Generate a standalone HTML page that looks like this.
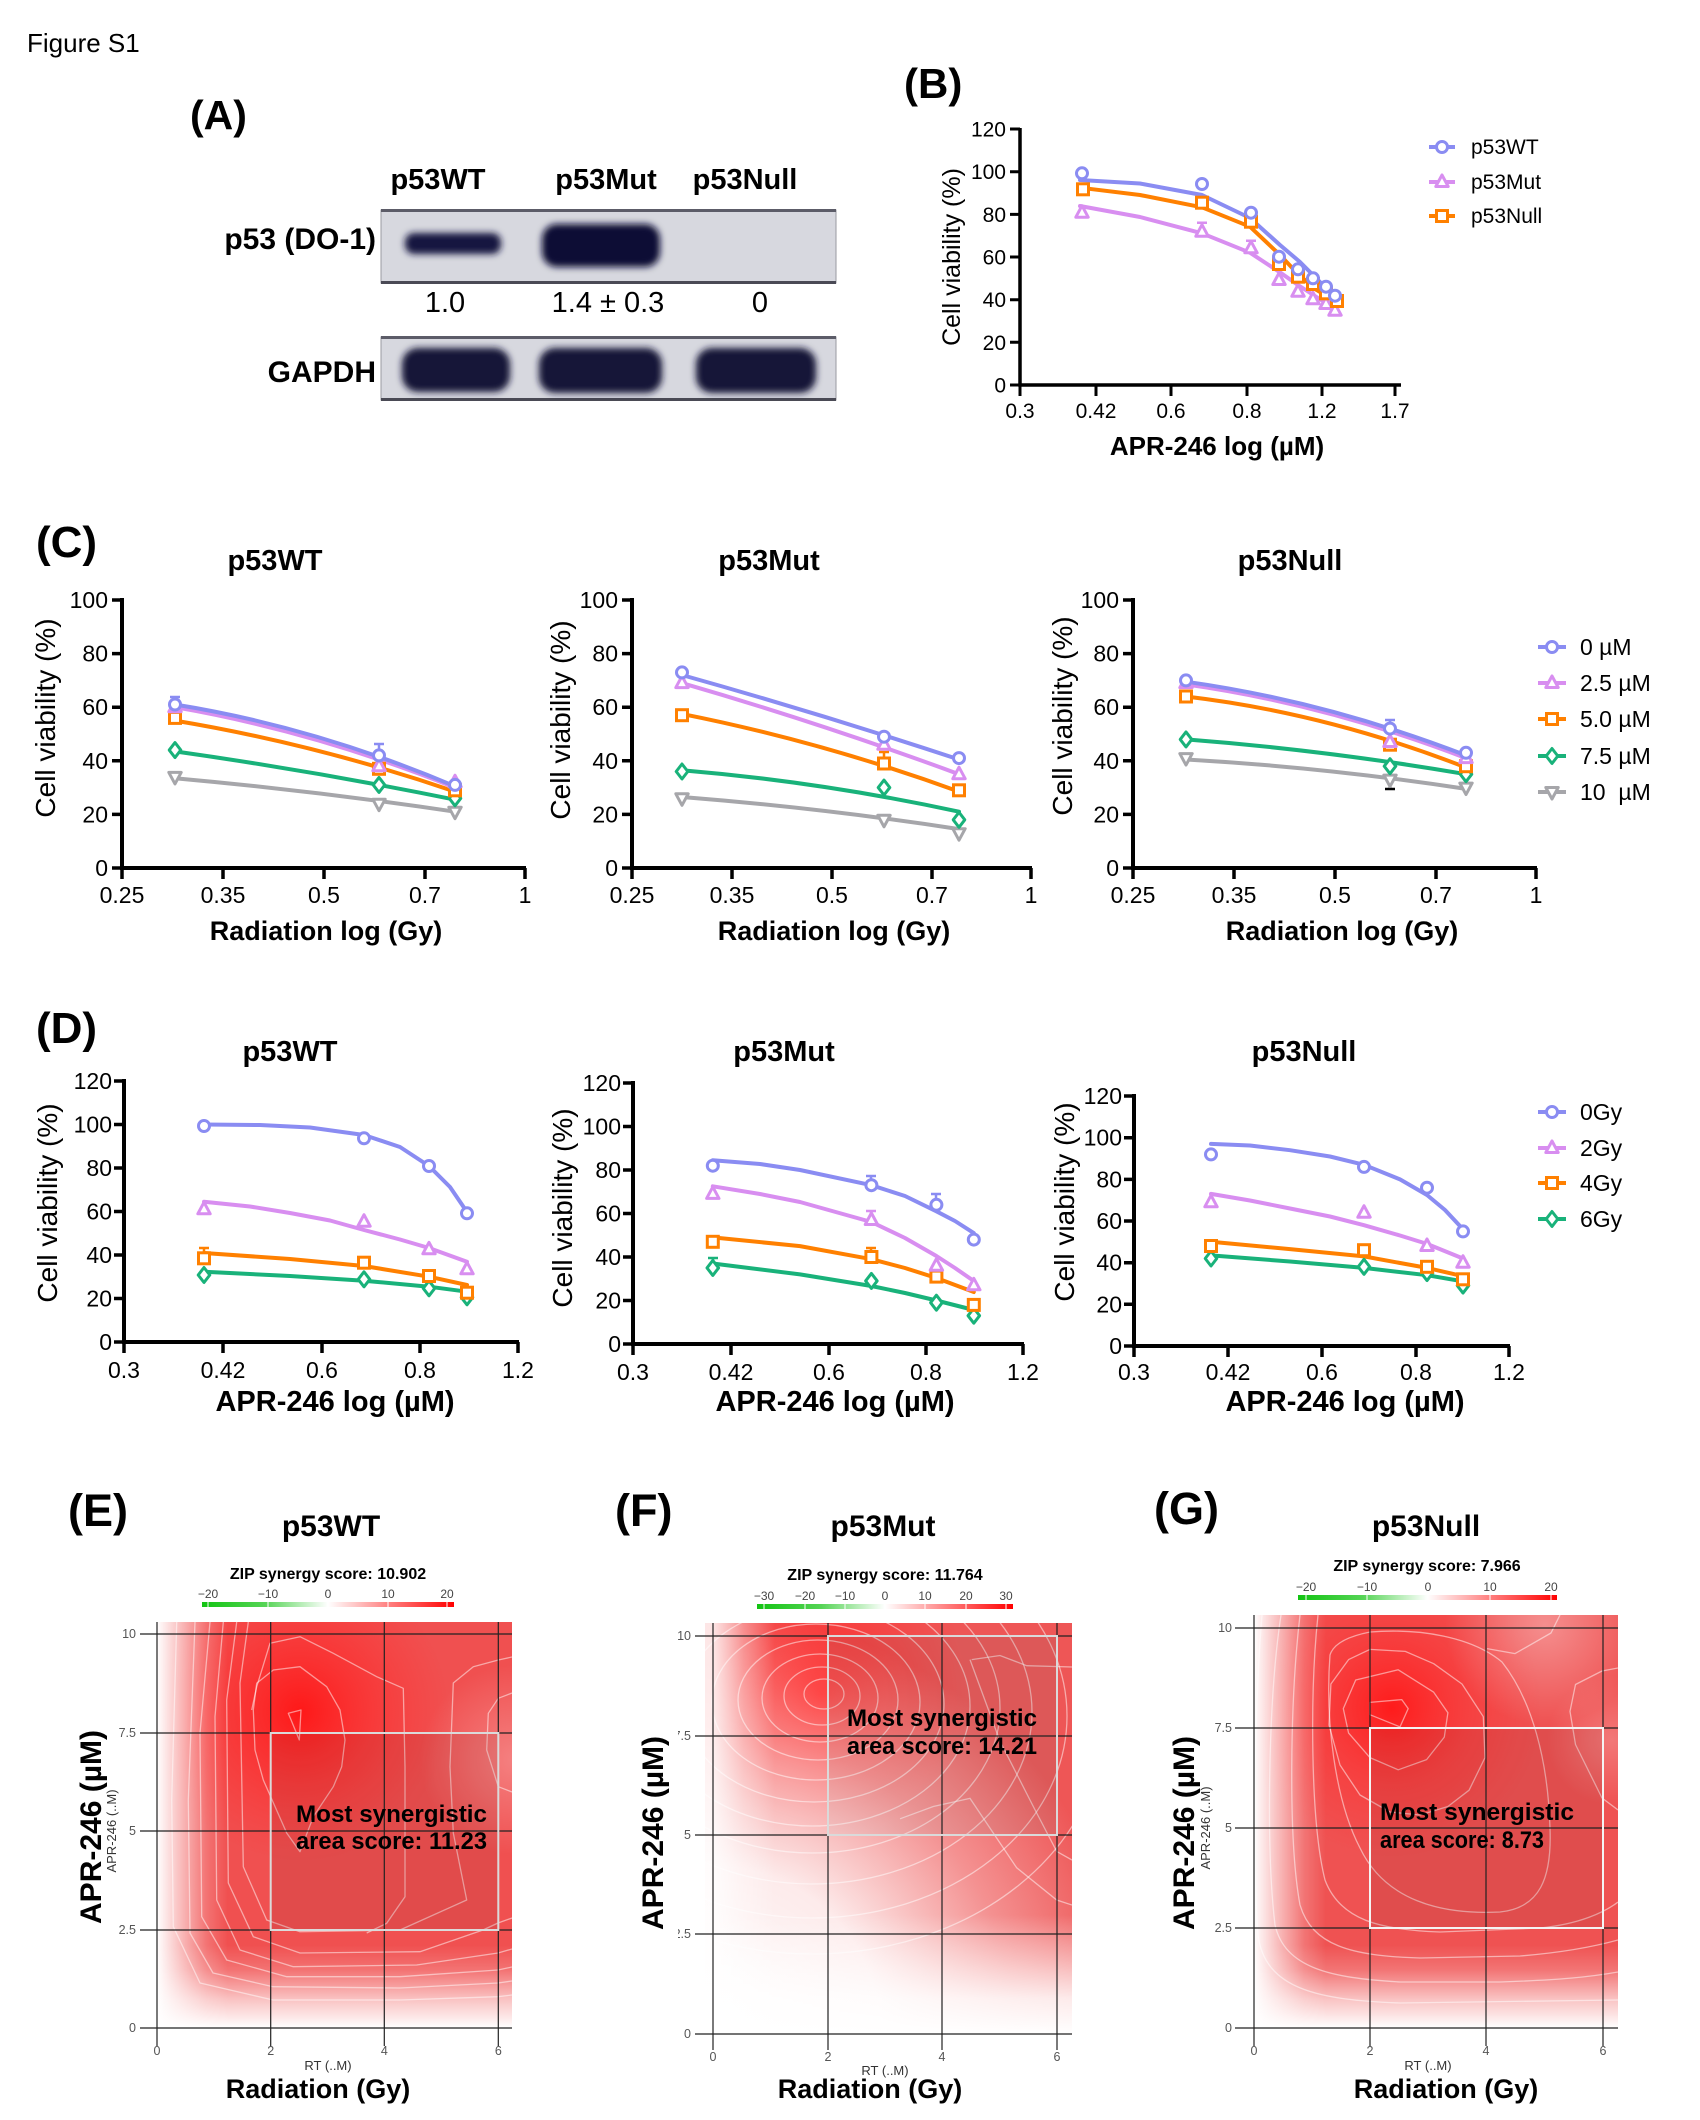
<!DOCTYPE html>
<html><head><meta charset="utf-8"><title>Figure S1</title>
<style>html,body{margin:0;padding:0;background:#fff;}svg{display:block;}</style>
</head><body>
<svg xmlns="http://www.w3.org/2000/svg" width="1700" height="2120" viewBox="0 0 1700 2120" font-family="'Liberation Sans', Arial, sans-serif">
<defs>
<g id="mc"><circle r="5.5" fill="#fff" stroke="#8a8cf2" stroke-width="3"/></g>
<g id="mt"><path d="M0,-7L6.2,4.5L-6.2,4.5Z" fill="#fff" stroke="#d88ef0" stroke-width="3" stroke-linejoin="round"/></g>
<g id="ms"><rect x="-5.5" y="-5.5" width="11" height="11" fill="#fff" stroke="#ff8000" stroke-width="3"/></g>
<g id="md"><path d="M0,-7.5L5.8,0L0,7.5L-5.8,0Z" fill="#fff" stroke="#19b27a" stroke-width="3" stroke-linejoin="round"/></g>
<g id="mv"><path d="M0,7L6.2,-4.5L-6.2,-4.5Z" fill="#fff" stroke="#a6a6aa" stroke-width="3" stroke-linejoin="round"/></g>
<filter id="bl" x="-30%" y="-60%" width="160%" height="220%"><feGaussianBlur stdDeviation="3.5"/></filter>

<linearGradient id="cb" x1="0" x2="1" y1="0" y2="0">
<stop offset="0" stop-color="#12c412"/><stop offset="0.25" stop-color="#55d455"/><stop offset="0.5" stop-color="#ffffff"/><stop offset="0.75" stop-color="#ff7b7b"/><stop offset="1" stop-color="#ff0000"/>
</linearGradient>

<!-- E -->
<clipPath id="cE"><rect x="150" y="1622" width="362" height="407"/></clipPath>
<radialGradient id="pkE" gradientUnits="userSpaceOnUse" cx="300" cy="1712" r="150"><stop offset="0" stop-color="#ff1515" stop-opacity="0.95"/><stop offset="0.5" stop-color="#ff2525" stop-opacity="0.5"/><stop offset="1" stop-color="#ff3030" stop-opacity="0"/></radialGradient>
<radialGradient id="rtE" gradientUnits="userSpaceOnUse" cx="515" cy="1760" r="95"><stop offset="0" stop-color="#fff" stop-opacity="0.28"/><stop offset="1" stop-color="#fff" stop-opacity="0"/></radialGradient>
<linearGradient id="lfE" gradientUnits="userSpaceOnUse" x1="157" y1="0" x2="228" y2="0"><stop offset="0" stop-color="#fff" stop-opacity="1"/><stop offset="0.35" stop-color="#fff" stop-opacity="0.6"/><stop offset="0.7" stop-color="#fff" stop-opacity="0.2"/><stop offset="1" stop-color="#fff" stop-opacity="0"/></linearGradient>
<linearGradient id="btE" gradientUnits="userSpaceOnUse" x1="0" y1="2028" x2="0" y2="1945"><stop offset="0" stop-color="#fff" stop-opacity="1"/><stop offset="0.35" stop-color="#fff" stop-opacity="0.65"/><stop offset="0.7" stop-color="#fff" stop-opacity="0.2"/><stop offset="1" stop-color="#fff" stop-opacity="0"/></linearGradient>

<!-- F -->
<clipPath id="cF"><rect x="705" y="1623" width="367" height="411"/></clipPath>
<radialGradient id="pkF" gradientUnits="userSpaceOnUse" cx="822" cy="1694" r="150"><stop offset="0" stop-color="#ff1818" stop-opacity="0.95"/><stop offset="0.5" stop-color="#ff2a2a" stop-opacity="0.45"/><stop offset="1" stop-color="#ff3030" stop-opacity="0"/></radialGradient>
<radialGradient id="wF" gradientUnits="userSpaceOnUse" cx="713" cy="2034" r="420"><stop offset="0" stop-color="#fff" stop-opacity="1"/><stop offset="0.4" stop-color="#fff" stop-opacity="0.88"/><stop offset="0.72" stop-color="#fff" stop-opacity="0.35"/><stop offset="1" stop-color="#fff" stop-opacity="0"/></radialGradient>
<linearGradient id="lfF" gradientUnits="userSpaceOnUse" x1="713" y1="0" x2="775" y2="0"><stop offset="0" stop-color="#fff" stop-opacity="0.85"/><stop offset="0.5" stop-color="#fff" stop-opacity="0.35"/><stop offset="1" stop-color="#fff" stop-opacity="0"/></linearGradient>
<linearGradient id="btF" gradientUnits="userSpaceOnUse" x1="0" y1="2034" x2="0" y2="1915"><stop offset="0" stop-color="#fff" stop-opacity="1"/><stop offset="0.3" stop-color="#fff" stop-opacity="0.85"/><stop offset="0.62" stop-color="#fff" stop-opacity="0.45"/><stop offset="1" stop-color="#fff" stop-opacity="0"/></linearGradient>

<!-- G -->
<clipPath id="cG"><rect x="1245" y="1615" width="373" height="413"/></clipPath>
<radialGradient id="pkG" gradientUnits="userSpaceOnUse" cx="1392" cy="1708" r="150"><stop offset="0" stop-color="#ff1818" stop-opacity="0.95"/><stop offset="0.5" stop-color="#ff2a2a" stop-opacity="0.45"/><stop offset="1" stop-color="#ff3030" stop-opacity="0"/></radialGradient>
<radialGradient id="rtG" gradientUnits="userSpaceOnUse" cx="1545" cy="1625" r="100"><stop offset="0" stop-color="#fff" stop-opacity="0.35"/><stop offset="1" stop-color="#fff" stop-opacity="0"/></radialGradient>
<radialGradient id="rt2G" gradientUnits="userSpaceOnUse" cx="1612" cy="1740" r="65"><stop offset="0" stop-color="#fff" stop-opacity="0.22"/><stop offset="1" stop-color="#fff" stop-opacity="0"/></radialGradient>
<linearGradient id="lfG" gradientUnits="userSpaceOnUse" x1="1254" y1="0" x2="1326" y2="0"><stop offset="0" stop-color="#fff" stop-opacity="1"/><stop offset="0.35" stop-color="#fff" stop-opacity="0.6"/><stop offset="0.7" stop-color="#fff" stop-opacity="0.2"/><stop offset="1" stop-color="#fff" stop-opacity="0"/></linearGradient>
<linearGradient id="btG" gradientUnits="userSpaceOnUse" x1="0" y1="2028" x2="0" y2="1945"><stop offset="0" stop-color="#fff" stop-opacity="1"/><stop offset="0.35" stop-color="#fff" stop-opacity="0.65"/><stop offset="0.7" stop-color="#fff" stop-opacity="0.2"/><stop offset="1" stop-color="#fff" stop-opacity="0"/></linearGradient>
</defs>

<rect width="1700" height="2120" fill="#fff"/>

<!-- ================= PANEL A ================= -->
<text x="27" y="52" font-size="26">Figure S1</text>
<text x="190" y="129" font-size="41" font-weight="bold">(A)</text>
<g font-size="29" font-weight="bold" text-anchor="middle">
<text x="438" y="189">p53WT</text>
<text x="606" y="189">p53Mut</text>
<text x="745" y="189">p53Null</text>
</g>
<!-- blot 1 -->
<rect x="381" y="210" width="455" height="73" fill="#d7d8df" stroke="#9a9aa2" stroke-width="1"/>
<rect x="381" y="209" width="455" height="3" fill="#5c5c68"/>
<rect x="381" y="281" width="455" height="3" fill="#4a4a55"/>
<rect x="405" y="233" width="96" height="21" rx="9" fill="#141440" filter="url(#bl)"/>
<rect x="542" y="224" width="118" height="43" rx="15" fill="#101035" filter="url(#bl)"/>
<text x="376" y="249" font-size="30" font-weight="bold" text-anchor="end">p53 (DO-1)</text>
<g font-size="29" text-anchor="middle">
<text x="445" y="312">1.0</text>
<text x="608" y="312">1.4 ± 0.3</text>
<text x="760" y="312">0</text>
</g>
<!-- blot 2 -->
<rect x="381" y="337" width="455" height="63" fill="#d7d8df" stroke="#9a9aa2" stroke-width="1"/>
<rect x="381" y="336" width="455" height="3" fill="#5c5c68"/>
<rect x="381" y="398" width="455" height="3" fill="#4a4a55"/>
<rect x="402" y="348" width="108" height="44" rx="16" fill="#121238" filter="url(#bl)"/>
<rect x="539" y="348" width="123" height="45" rx="16" fill="#121238" filter="url(#bl)"/>
<rect x="696" y="348" width="120" height="45" rx="16" fill="#121238" filter="url(#bl)"/>
<text x="376" y="382" font-size="30" font-weight="bold" text-anchor="end">GAPDH</text>

<!-- ================= PANEL B ================= -->
<text x="904" y="98" font-size="42" font-weight="bold">(B)</text>
<g stroke="#000" fill="none">
<path d="M1020,128V385H1401" stroke-width="3.5"/>
<path d="M1010,385H1020M1010,342.3H1020M1010,299.7H1020M1010,257H1020M1010,214.4H1020M1010,171.7H1020M1010,129H1020M1020,385V396M1096,385V396M1171,385V396M1247,385V396M1322,385V396M1395,385V396" stroke-width="3"/>
</g>
<g font-size="21" text-anchor="end">
<text x="1006" y="392.5">0</text><text x="1006" y="349.8">20</text><text x="1006" y="307.2">40</text><text x="1006" y="264.5">60</text><text x="1006" y="221.9">80</text><text x="1006" y="179.2">100</text><text x="1006" y="136.5">120</text>
</g>
<g font-size="21" text-anchor="middle">
<text x="1020" y="418">0.3</text><text x="1096" y="418">0.42</text><text x="1171" y="418">0.6</text><text x="1247" y="418">0.8</text><text x="1322" y="418">1.2</text><text x="1395" y="418">1.7</text>
</g>
<text transform="translate(960,257) rotate(-90)" font-size="25" text-anchor="middle">Cell viability (%)</text>
<text x="1217" y="455" font-size="26" font-weight="bold" text-anchor="middle">APR-246 log (µM)</text>
<g fill="none" stroke-width="4" stroke-linejoin="round" stroke-linecap="round">
<polyline stroke="#d88ef0" points="1080,206 1140,217 1202,233.3 1250,252.7 1279,271.7 1298,285 1318,298 1336,309"/>
<polyline stroke="#ff8000" points="1080,187.7 1140,195 1202,207.3 1250,226.7 1280,255 1298,274 1315,289 1337,302"/>
<polyline stroke="#8a8cf2" points="1080,180 1140,183.5 1202,195 1250,218 1280,245 1300,262 1315,277 1330,292 1338,300"/>
</g>
<g stroke="#d88ef0" stroke-width="2.5" fill="none"><path d="M1202,222.7V232M1197,222.7H1207M1251,240.7V250M1246,240.7H1256"/></g>
<use href="#mt" x="1082" y="212.7"/><use href="#mt" x="1202" y="231.7"/><use href="#mt" x="1251" y="248.3"/><use href="#mt" x="1279" y="280"/><use href="#mt" x="1298" y="291.7"/><use href="#mt" x="1313" y="299.3"/><use href="#mt" x="1326" y="304"/><use href="#mt" x="1335" y="310.7"/>
<use href="#ms" x="1083" y="189.3"/><use href="#ms" x="1202" y="202.7"/><use href="#ms" x="1251" y="221.7"/><use href="#ms" x="1279" y="264"/><use href="#ms" x="1298" y="276.7"/><use href="#ms" x="1313" y="284"/><use href="#ms" x="1326" y="293.3"/><use href="#ms" x="1337" y="301"/>
<use href="#mc" x="1082" y="173.3"/><use href="#mc" x="1202" y="184"/><use href="#mc" x="1251" y="212.7"/><use href="#mc" x="1279" y="256.7"/><use href="#mc" x="1298" y="269.3"/><use href="#mc" x="1313" y="278.3"/><use href="#mc" x="1326" y="286.7"/><use href="#mc" x="1335" y="295.7"/>
<!-- legend B -->
<g stroke-width="4"><path d="M1429,147H1455" stroke="#8a8cf2"/><path d="M1429,182H1455" stroke="#d88ef0"/><path d="M1429,216H1455" stroke="#ff8000"/></g>
<use href="#mc" x="1442" y="147"/><use href="#mt" x="1442" y="182"/><use href="#ms" x="1442" y="216"/>
<g font-size="21"><text x="1471" y="154">p53WT</text><text x="1471" y="189">p53Mut</text><text x="1471" y="223">p53Null</text></g>

<!-- ================= PANEL C ================= -->
<text x="36" y="557" font-size="44" font-weight="bold">(C)</text>
<g font-size="29" font-weight="bold" text-anchor="middle">
<text x="275" y="570">p53WT</text><text x="769" y="570">p53Mut</text><text x="1290" y="570">p53Null</text>
</g>
<g stroke="#000" fill="none">
<path d="M122,598V868H526M632,598V868H1032M1133,598V868H1537" stroke-width="4"/>
<path d="M112,868H122M112,814.4H122M112,760.8H122M112,707.2H122M112,653.6H122M112,600H122M122,868V879M223,868V879M324,868V879M425,868V879M525,868V879" stroke-width="3.5"/>
<path d="M622,868H632M622,814.4H632M622,760.8H632M622,707.2H632M622,653.6H632M622,600H632M632,868V879M732,868V879M832,868V879M932,868V879M1031,868V879" stroke-width="3.5"/>
<path d="M1123,868H1133M1123,814.4H1133M1123,760.8H1133M1123,707.2H1133M1123,653.6H1133M1123,600H1133M1133,868V879M1234,868V879M1335,868V879M1436,868V879M1536,868V879" stroke-width="3.5"/>
</g>
<g font-size="23" text-anchor="end">
<text x="108" y="876">0</text><text x="108" y="822.4">20</text><text x="108" y="768.8">40</text><text x="108" y="715.2">60</text><text x="108" y="661.6">80</text><text x="108" y="608">100</text>
<text x="618" y="876">0</text><text x="618" y="822.4">20</text><text x="618" y="768.8">40</text><text x="618" y="715.2">60</text><text x="618" y="661.6">80</text><text x="618" y="608">100</text>
<text x="1119" y="876">0</text><text x="1119" y="822.4">20</text><text x="1119" y="768.8">40</text><text x="1119" y="715.2">60</text><text x="1119" y="661.6">80</text><text x="1119" y="608">100</text>
</g>
<g font-size="23" text-anchor="middle">
<text x="122" y="903">0.25</text><text x="223" y="903">0.35</text><text x="324" y="903">0.5</text><text x="425" y="903">0.7</text><text x="525" y="903">1</text>
<text x="632" y="903">0.25</text><text x="732" y="903">0.35</text><text x="832" y="903">0.5</text><text x="932" y="903">0.7</text><text x="1031" y="903">1</text>
<text x="1133" y="903">0.25</text><text x="1234" y="903">0.35</text><text x="1335" y="903">0.5</text><text x="1436" y="903">0.7</text><text x="1536" y="903">1</text>
</g>
<g font-size="28" text-anchor="middle">
<text transform="translate(55,718) rotate(-90)">Cell viability (%)</text>
<text transform="translate(570,720) rotate(-90)">Cell viability (%)</text>
<text transform="translate(1072,716) rotate(-90)">Cell viability (%)</text>
</g>
<g font-size="27" font-weight="bold" text-anchor="middle">
<text x="326" y="940">Radiation log (Gy)</text><text x="834" y="940">Radiation log (Gy)</text><text x="1342" y="940">Radiation log (Gy)</text>
</g>
<g fill="none" stroke-width="4" stroke-linecap="round">
<path stroke="#a6a6aa" d="M175,778.2Q315,790.9 455,811.7"/>
<path stroke="#19b27a" d="M175,751.4Q315,771.2 455,799.7"/>
<path stroke="#ff8000" d="M175,720.6Q315,743.9 455,791.6"/>
<path stroke="#d88ef0" d="M175,707.2Q315,731.5 455,787.6"/>
<path stroke="#8a8cf2" d="M175,704.5Q315,727 455,786.3"/>
<path stroke="#a6a6aa" d="M682,797Q822,808.1 959,829.1"/>
<path stroke="#19b27a" d="M682,770.2Q822,782 959,811.7"/>
<path stroke="#ff8000" d="M682,713.9Q822,741.8 959,791.6"/>
<path stroke="#d88ef0" d="M682,683.1Q822,723.6 959,774.2"/>
<path stroke="#8a8cf2" d="M682,675Q822,714.3 959,759.5"/>
<path stroke="#a6a6aa" d="M1186,759.5Q1326,767.4 1466,788.9"/>
<path stroke="#19b27a" d="M1186,739.4Q1326,750.2 1466,774.2"/>
<path stroke="#ff8000" d="M1186,696.5Q1326,713 1466,767.5"/>
<path stroke="#d88ef0" d="M1186,684.4Q1326,704.2 1466,758.1"/>
<path stroke="#8a8cf2" d="M1186,681.7Q1326,701.4 1466,755.4"/>
</g>
<g fill="none" stroke-width="2.5">
<path stroke="#8a8cf2" d="M379,744V758M374,744H384M175,697V705M170,697H180"/>
<path stroke="#ff8000" d="M884,752V770M879,752H889"/>
<path stroke="#000" d="M1390,770V789M1385,789H1395"/>
<path stroke="#8a8cf2" d="M1390,720V730M1385,720H1395"/>
</g>
<use href="#mv" x="175" y="776.9"/><use href="#mv" x="379" y="803.7"/><use href="#mv" x="455" y="811.7"/>
<use href="#md" x="175" y="750.1"/><use href="#md" x="379" y="784.9"/><use href="#md" x="455" y="798.3"/>
<use href="#ms" x="175" y="717.9"/><use href="#ms" x="379" y="768.8"/><use href="#ms" x="455" y="790.3"/>
<use href="#mt" x="175" y="707.2"/><use href="#mt" x="379" y="766.2"/><use href="#mt" x="455" y="782.2"/>
<use href="#mc" x="175" y="704.5"/><use href="#mc" x="379" y="755.4"/><use href="#mc" x="455" y="784.9"/>
<use href="#mv" x="682" y="798.3"/><use href="#mv" x="884" y="819.8"/><use href="#mv" x="959" y="833.2"/>
<use href="#md" x="682" y="771.5"/><use href="#md" x="884" y="787.6"/><use href="#md" x="959" y="819.8"/>
<use href="#ms" x="682" y="715.2"/><use href="#ms" x="884" y="763.5"/><use href="#ms" x="959" y="790.3"/>
<use href="#mt" x="682" y="683.1"/><use href="#mt" x="884" y="744.7"/><use href="#mt" x="959" y="774.2"/>
<use href="#mc" x="682" y="672.4"/><use href="#mc" x="884" y="736.7"/><use href="#mc" x="959" y="758.1"/>
<use href="#mv" x="1186" y="758.1"/><use href="#mv" x="1390" y="779.6"/><use href="#mv" x="1466" y="787.6"/>
<use href="#md" x="1186" y="739.4"/><use href="#md" x="1390" y="766.2"/><use href="#md" x="1466" y="774.2"/>
<use href="#ms" x="1186" y="696.5"/><use href="#ms" x="1390" y="744.7"/><use href="#ms" x="1466" y="766.2"/>
<use href="#mt" x="1186" y="683.1"/><use href="#mt" x="1390" y="742"/><use href="#mt" x="1466" y="758.1"/>
<use href="#mc" x="1186" y="680.4"/><use href="#mc" x="1390" y="728.6"/><use href="#mc" x="1466" y="752.8"/>
<!-- legend C -->
<g stroke-width="4">
<path d="M1538,647H1566" stroke="#8a8cf2"/><path d="M1538,683H1566" stroke="#d88ef0"/><path d="M1538,719H1566" stroke="#ff8000"/><path d="M1538,756H1566" stroke="#19b27a"/><path d="M1538,792H1566" stroke="#a6a6aa"/>
</g>
<use href="#mc" x="1552" y="647"/><use href="#mt" x="1552" y="683"/><use href="#ms" x="1552" y="719"/><use href="#md" x="1552" y="756"/><use href="#mv" x="1552" y="792"/>
<g font-size="23">
<text x="1580" y="655">0 µM</text><text x="1580" y="691">2.5 µM</text><text x="1580" y="727">5.0 µM</text><text x="1580" y="764">7.5 µM</text><text x="1580" y="800">10&#160; µM</text>
</g>

<!-- ================= PANEL D ================= -->
<text x="36" y="1043" font-size="44" font-weight="bold">(D)</text>
<g font-size="29" font-weight="bold" text-anchor="middle">
<text x="290" y="1061">p53WT</text><text x="784" y="1061">p53Mut</text><text x="1304" y="1061">p53Null</text>
</g>
<g stroke="#000" fill="none">
<path d="M124,1079V1342H519M633,1081V1344H1024M1134,1094V1346H1510" stroke-width="4"/>
<path d="M114,1342H124M114,1298.5H124M114,1255H124M114,1211.5H124M114,1168H124M114,1124.5H124M114,1081H124M124,1342V1353M223,1342V1353M322,1342V1353M420,1342V1353M518,1342V1353" stroke-width="3.5"/>
<path d="M623,1344H633M623,1300.5H633M623,1257H633M623,1213.5H633M623,1170H633M623,1126.5H633M623,1083H633M633,1344V1355M731,1344V1355M829,1344V1355M926,1344V1355M1023,1344V1355" stroke-width="3.5"/>
<path d="M1124,1346H1134M1124,1304.3H1134M1124,1262.7H1134M1124,1221H1134M1124,1179.4H1134M1124,1137.7H1134M1124,1096H1134M1134,1346V1357M1228,1346V1357M1322,1346V1357M1416,1346V1357M1509,1346V1357" stroke-width="3.5"/>
</g>
<g font-size="23" text-anchor="end">
<text x="112" y="1350">0</text><text x="112" y="1306.5">20</text><text x="112" y="1263">40</text><text x="112" y="1219.5">60</text><text x="112" y="1176">80</text><text x="112" y="1132.5">100</text><text x="112" y="1089">120</text>
<text x="621" y="1352">0</text><text x="621" y="1308.5">20</text><text x="621" y="1265">40</text><text x="621" y="1221.5">60</text><text x="621" y="1178">80</text><text x="621" y="1134.5">100</text><text x="621" y="1091">120</text>
<text x="1122" y="1354">0</text><text x="1122" y="1312.3">20</text><text x="1122" y="1270.7">40</text><text x="1122" y="1229">60</text><text x="1122" y="1187.4">80</text><text x="1122" y="1145.7">100</text><text x="1122" y="1104">120</text>
</g>
<g font-size="23" text-anchor="middle">
<text x="124" y="1378">0.3</text><text x="223" y="1378">0.42</text><text x="322" y="1378">0.6</text><text x="420" y="1378">0.8</text><text x="518" y="1378">1.2</text>
<text x="633" y="1380">0.3</text><text x="731" y="1380">0.42</text><text x="829" y="1380">0.6</text><text x="926" y="1380">0.8</text><text x="1023" y="1380">1.2</text>
<text x="1134" y="1380">0.3</text><text x="1228" y="1380">0.42</text><text x="1322" y="1380">0.6</text><text x="1416" y="1380">0.8</text><text x="1509" y="1380">1.2</text>
</g>
<g font-size="28" text-anchor="middle">
<text transform="translate(57,1203) rotate(-90)">Cell viability (%)</text>
<text transform="translate(572,1208) rotate(-90)">Cell viability (%)</text>
<text transform="translate(1074,1202) rotate(-90)">Cell viability (%)</text>
</g>
<g font-size="29" font-weight="bold" text-anchor="middle">
<text x="335" y="1411">APR-246 log (µM)</text><text x="835" y="1411">APR-246 log (µM)</text><text x="1345" y="1411">APR-246 log (µM)</text>
</g>
<g fill="none" stroke-width="4" stroke-linejoin="round" stroke-linecap="round">
<polyline stroke="#19b27a" points="204,1271.7 290,1276 364,1280.7 429,1286.7 467,1291.7"/>
<polyline stroke="#ff8000" points="204,1253 290,1259 364,1266 429,1276.7 467,1285"/>
<polyline stroke="#d88ef0" points="204,1201.7 250,1206.5 290,1213 330,1220.5 364,1230 400,1239.5 429,1248 467,1261.7"/>
<polyline stroke="#8a8cf2" points="204,1124.5 260,1125 310,1127.5 364,1135 400,1147 429,1166 450,1187 467,1212"/>
<polyline stroke="#19b27a" points="712.8,1263.5 800,1274.4 871.4,1286 905,1293 936.4,1300.5 973.8,1310"/>
<polyline stroke="#ff8000" points="712.8,1237.4 800,1246.1 871.4,1259.2 905,1268 936.4,1278 973.8,1292"/>
<polyline stroke="#d88ef0" points="712.8,1186.3 760,1194 800,1202 871.4,1222 905,1238 936.4,1256 955,1268 973.8,1281"/>
<polyline stroke="#8a8cf2" points="712.8,1160.2 760,1164 800,1170 871.4,1185.2 905,1196 936.4,1211.3 955,1221 973.8,1233.1"/>
<polyline stroke="#19b27a" points="1211,1255.4 1290,1261.5 1364,1267.9 1427,1275.2 1463,1281.4"/>
<polyline stroke="#ff8000" points="1211,1241.8 1290,1249.1 1364,1256.4 1427,1267.9 1463,1276.2"/>
<polyline stroke="#d88ef0" points="1211,1193.9 1250,1200.5 1290,1208.5 1330,1216.5 1364,1225.2 1400,1235.5 1427,1243.9 1463,1258.5"/>
<polyline stroke="#8a8cf2" points="1211,1143.9 1250,1145.5 1290,1150.2 1330,1156.5 1364,1164.8 1400,1179.4 1427,1195 1445,1210 1463,1229.3"/>
</g>
<g fill="none" stroke-width="2.5">
<path stroke="#ff8000" d="M204,1248V1258M199,1248H209"/>
<path stroke="#19b27a" d="M713,1258V1276M708,1258H718"/>
<path stroke="#8a8cf2" d="M871,1176V1186M866,1176H876M936,1194V1206M931,1194H941"/>
<path stroke="#d88ef0" d="M871,1211V1220M866,1211H876"/>
<path stroke="#ff8000" d="M871,1248V1257M866,1248H876"/>
</g>
<use href="#md" x="204" y="1275"/><use href="#md" x="364" y="1279.3"/><use href="#md" x="429" y="1288.3"/><use href="#md" x="467" y="1297.3"/>
<use href="#ms" x="204" y="1258.3"/><use href="#ms" x="364" y="1262.7"/><use href="#ms" x="429" y="1276"/><use href="#ms" x="467" y="1292.7"/>
<use href="#mt" x="204" y="1209.3"/><use href="#mt" x="364" y="1221.7"/><use href="#mt" x="429" y="1249.3"/><use href="#mt" x="467" y="1269.3"/>
<use href="#mc" x="204" y="1126"/><use href="#mc" x="364" y="1138.3"/><use href="#mc" x="429" y="1166"/><use href="#mc" x="467" y="1213.3"/>
<use href="#md" x="712.8" y="1267.9"/><use href="#md" x="871.4" y="1280.9"/><use href="#md" x="936.4" y="1302.7"/><use href="#md" x="973.8" y="1315.7"/>
<use href="#ms" x="712.8" y="1241.8"/><use href="#ms" x="871.4" y="1257"/><use href="#ms" x="936.4" y="1276.6"/><use href="#ms" x="973.8" y="1304.9"/>
<use href="#mt" x="712.8" y="1193.9"/><use href="#mt" x="871.4" y="1220"/><use href="#mt" x="936.4" y="1265.7"/><use href="#mt" x="973.8" y="1285.3"/>
<use href="#mc" x="712.8" y="1165.7"/><use href="#mc" x="871.4" y="1185.2"/><use href="#mc" x="936.4" y="1204.8"/><use href="#mc" x="973.8" y="1239.6"/>
<use href="#md" x="1211" y="1258.5"/><use href="#md" x="1364" y="1266.8"/><use href="#md" x="1427" y="1273.1"/><use href="#md" x="1463" y="1285.6"/>
<use href="#ms" x="1211" y="1246"/><use href="#ms" x="1364" y="1250.2"/><use href="#ms" x="1427" y="1266.8"/><use href="#ms" x="1463" y="1279.3"/>
<use href="#mt" x="1211" y="1202.3"/><use href="#mt" x="1364" y="1212.7"/><use href="#mt" x="1427" y="1246"/><use href="#mt" x="1463" y="1262.7"/>
<use href="#mc" x="1211" y="1154.4"/><use href="#mc" x="1364" y="1166.9"/><use href="#mc" x="1427" y="1187.7"/><use href="#mc" x="1463" y="1231.4"/>
<!-- legend D -->
<g stroke-width="4">
<path d="M1538,1112H1566" stroke="#8a8cf2"/><path d="M1538,1148H1566" stroke="#d88ef0"/><path d="M1538,1183H1566" stroke="#ff8000"/><path d="M1538,1219H1566" stroke="#19b27a"/>
</g>
<use href="#mc" x="1552" y="1112"/><use href="#mt" x="1552" y="1148"/><use href="#ms" x="1552" y="1183"/><use href="#md" x="1552" y="1219"/>
<g font-size="23">
<text x="1580" y="1120">0Gy</text><text x="1580" y="1156">2Gy</text><text x="1580" y="1191">4Gy</text><text x="1580" y="1227">6Gy</text>
</g>

<!-- ================= PANEL E ================= -->
<text x="68" y="1526" font-size="45" font-weight="bold">(E)</text>
<text x="331" y="1536" font-size="30" font-weight="bold" text-anchor="middle">p53WT</text>
<text x="328" y="1579" font-size="16" font-weight="bold" text-anchor="middle">ZIP synergy score: 10.902</text>
<g font-size="12" fill="#444" text-anchor="middle"><text x="208" y="1598">−20</text><text x="268" y="1598">−10</text><text x="328" y="1598">0</text><text x="388" y="1598">10</text><text x="447" y="1598">20</text></g>
<rect x="202" y="1602" width="252" height="5" fill="url(#cb)"/>
<g stroke="#fff" stroke-width="1"><path d="M208,1602v5M268,1602v5M388,1602v5M447,1602v5"/></g>
<g clip-path="url(#cE)">
<rect x="150" y="1622" width="362" height="407" fill="#f05050"/>
<rect x="150" y="1622" width="362" height="407" fill="url(#pkE)"/>
<rect x="150" y="1622" width="362" height="407" fill="url(#rtE)"/>
<g fill="none" stroke="#fff" stroke-opacity="0.5" stroke-width="1.3" stroke-linejoin="round">
<polyline points="176.7,1622 171.7,1800 173.3,1926.7 200,1983 273,2000 400,2000 498,1996.7 512,1995"/>
<polyline points="195,1622 188.3,1800 190,1933 213,1973 273,1986.7 400,1988 498,1983 512,1981"/>
<polyline points="210,1622 200,1733 201.7,1916.7 226.7,1960 286.7,1976.7 400,1976.7 498,1970 512,1967"/>
<polyline points="223.3,1622 215,1716.7 216.7,1900 240,1950 293.3,1966.7 416.7,1965 498,1953 512,1949"/>
<polyline points="236.7,1622 226.7,1700 228.3,1883 253.3,1936.7 300,1953 420,1951.7 483,1930 498,1923 512,1918"/>
<polyline points="248.3,1622 240,1683 243.3,1866.7 266.7,1920 300,1931.7 400,1930 466.7,1900 453.3,1833 450,1766.7 453.3,1683 473.3,1666.7 498.3,1660 512,1657"/>
<polyline points="251.7,1710 256.7,1686.7 270,1643.3 300,1636.7 333.3,1653.3 376.7,1676.7 403.3,1688.3 405,1766.7 405,1896.7 386.7,1923.3 366.7,1933"/>
<polygon points="253.3,1710 256.7,1683.3 273.3,1670 300,1666.7 326.7,1686.7 340,1710 345,1740 341.7,1766.7 333.3,1786.7 313.3,1816.7 300,1851.7 286.7,1833 263.3,1780 255,1750"/>
<polygon points="288.3,1713.3 301,1710 299.3,1740"/>
<polyline points="512,1693 498.3,1698.3 488.3,1713.3 486.7,1750 498.3,1786.7 512,1792"/>
</g>
<rect x="270.7" y="1733" width="227.6" height="197" fill="#602828" fill-opacity="0.1"/>
<rect x="150" y="1622" width="362" height="407" fill="url(#lfE)"/>
<rect x="150" y="1622" width="362" height="407" fill="url(#btE)"/>
</g>
<g stroke="#222" stroke-width="1.2" fill="none">
<path d="M140,1634H512M140,1733H512M140,1831H512M140,1930H512M140,2028H512"/>
<path d="M157,1622V2046M270.7,1622V2046M384.3,1622V2046M498.3,1622V2046"/>
</g>
<rect x="270.7" y="1733" width="227.6" height="197" fill="none" stroke="#dadada" stroke-width="2"/>
<g font-size="12.5" fill="#555" text-anchor="end"><text x="136" y="1638">10</text><text x="136" y="1737">7.5</text><text x="136" y="1835">5</text><text x="136" y="1934">2.5</text><text x="136" y="2032">0</text></g>
<g font-size="12.5" fill="#555" text-anchor="middle"><text x="157" y="2055">0</text><text x="270.7" y="2055">2</text><text x="384.3" y="2055">4</text><text x="498.3" y="2055">6</text></g>
<text x="328" y="2070" font-size="13" fill="#333" text-anchor="middle">RT (..M)</text>
<text x="318" y="2098" font-size="27" font-weight="bold" text-anchor="middle">Radiation (Gy)</text>
<text transform="translate(101,1827) rotate(-90)" font-size="30" font-weight="bold" text-anchor="middle">APR-246 (µM)</text>
<text transform="translate(116,1831) rotate(-90)" font-size="13" fill="#333" text-anchor="middle">APR-246 (..M)</text>
<g font-size="24" font-weight="bold"><text x="296" y="1822" textLength="191" lengthAdjust="spacingAndGlyphs">Most synergistic</text><text x="296" y="1849" textLength="191" lengthAdjust="spacingAndGlyphs">area score: 11.23</text></g>

<!-- ================= PANEL F ================= -->
<text x="615" y="1526" font-size="45" font-weight="bold">(F)</text>
<text x="883" y="1536" font-size="30" font-weight="bold" text-anchor="middle">p53Mut</text>
<text x="885" y="1580" font-size="16" font-weight="bold" text-anchor="middle">ZIP synergy score: 11.764</text>
<g font-size="12" fill="#444" text-anchor="middle"><text x="764" y="1600">−30</text><text x="805" y="1600">−20</text><text x="845" y="1600">−10</text><text x="885" y="1600">0</text><text x="925" y="1600">10</text><text x="966" y="1600">20</text><text x="1006" y="1600">30</text></g>
<rect x="757" y="1604" width="256" height="5" fill="url(#cb)"/>
<g stroke="#fff" stroke-width="1"><path d="M764,1604v5M805,1604v5M845,1604v5M925,1604v5M966,1604v5M1006,1604v5"/></g>
<g clip-path="url(#cF)">
<rect x="705" y="1623" width="367" height="411" fill="#ee5656"/>
<rect x="705" y="1623" width="367" height="411" fill="url(#pkF)"/>
<g fill="none" stroke="#fff" stroke-opacity="0.5" stroke-width="1.3">
<ellipse cx="824" cy="1694" rx="20" ry="15"/><ellipse cx="822" cy="1696" rx="38" ry="29"/><ellipse cx="820" cy="1698" rx="58" ry="44"/><ellipse cx="818" cy="1700" rx="80" ry="60"/><ellipse cx="816" cy="1702" rx="104" ry="78"/><ellipse cx="814" cy="1704" rx="130" ry="98"/><ellipse cx="812" cy="1706" rx="158" ry="120"/><ellipse cx="812" cy="1708" rx="188" ry="145"/><ellipse cx="812" cy="1712" rx="220" ry="172"/><ellipse cx="812" cy="1716" rx="255" ry="202"/><ellipse cx="812" cy="1720" rx="292" ry="234"/>
<polyline points="971.7,1659.6 1000,1655.5 1026.7,1665.7 1072,1667"/>
<polyline points="1072,1860 1056.7,1851.4 1033.3,1806.5 1000,1741.2 970,1659.6"/>
<polyline points="1072,1905 1056.7,1900 1016.7,1867.8 970,1798.4 933.3,1806.5 900,1818.8"/>
</g>
<rect x="828" y="1636" width="229" height="199" fill="#707070" fill-opacity="0.13"/>
<rect x="705" y="1623" width="367" height="411" fill="url(#wF)"/>
<rect x="705" y="1623" width="367" height="411" fill="url(#lfF)"/>
<rect x="705" y="1623" width="367" height="411" fill="url(#btF)"/>
</g>
<g stroke="#222" stroke-width="1.2" fill="none">
<path d="M695,1636H1072M695,1736H1072M695,1835H1072M695,1934H1072M695,2034H1072"/>
<path d="M713,1623V2050M828,1623V2050M942,1623V2050M1057,1623V2050"/>
</g>
<rect x="828" y="1636" width="229" height="199" fill="none" stroke="#dadada" stroke-width="2"/>
<g font-size="12.5" fill="#555" text-anchor="end"><text x="691" y="1640">10</text><text x="691" y="1740">7.5</text><text x="691" y="1839">5</text><text x="691" y="1938">2.5</text><text x="691" y="2038">0</text></g>
<g font-size="12.5" fill="#555" text-anchor="middle"><text x="713" y="2061">0</text><text x="828" y="2061">2</text><text x="942" y="2061">4</text><text x="1057" y="2061">6</text></g>
<text x="885" y="2075" font-size="13" fill="#333" text-anchor="middle">RT (..M)</text>
<text x="870" y="2098" font-size="27" font-weight="bold" text-anchor="middle">Radiation (Gy)</text>
<rect x="640" y="1700" width="38" height="250" fill="#fff"/>
<text transform="translate(663,1833) rotate(-90)" font-size="30" font-weight="bold" text-anchor="middle">APR-246 (µM)</text>
<g font-size="24" font-weight="bold"><text x="847" y="1726" textLength="190" lengthAdjust="spacingAndGlyphs">Most synergistic</text><text x="847" y="1754" textLength="190" lengthAdjust="spacingAndGlyphs">area score: 14.21</text></g>

<!-- ================= PANEL G ================= -->
<text x="1154" y="1524" font-size="45" font-weight="bold">(G)</text>
<text x="1426" y="1536" font-size="30" font-weight="bold" text-anchor="middle">p53Null</text>
<text x="1427" y="1571" font-size="16" font-weight="bold" text-anchor="middle">ZIP synergy score: 7.966</text>
<g font-size="12" fill="#444" text-anchor="middle"><text x="1306" y="1591">−20</text><text x="1367" y="1591">−10</text><text x="1428" y="1591">0</text><text x="1490" y="1591">10</text><text x="1551" y="1591">20</text></g>
<rect x="1298" y="1595" width="259" height="5" fill="url(#cb)"/>
<g stroke="#fff" stroke-width="1"><path d="M1306,1595v5M1367,1595v5M1490,1595v5M1551,1595v5"/></g>
<g clip-path="url(#cG)">
<rect x="1245" y="1615" width="373" height="413" fill="#ef5252"/>
<rect x="1245" y="1615" width="373" height="413" fill="url(#pkG)"/>
<rect x="1245" y="1615" width="373" height="413" fill="url(#rtG)"/>
<rect x="1245" y="1615" width="373" height="413" fill="url(#rt2G)"/>
<g fill="none" stroke="#fff" stroke-opacity="0.5" stroke-width="1.3" stroke-linejoin="round">
<polygon points="1369.9,1702.4 1401.8,1699.6 1408.2,1708.6 1400,1726.9 1369.9,1714.7"/>
<polygon points="1343.3,1708.6 1355.7,1680 1398.2,1669.8 1433.7,1692.2 1447.9,1712.7 1444.3,1737.1 1426.6,1759.6 1398.2,1769.8 1369.9,1757.6 1348.6,1733.1"/>
<polygon points="1329,1725 1330.9,1684 1348.6,1659.6 1369.9,1649.4 1405.3,1651.4 1433.7,1663.7 1462,1684 1483.3,1716.7 1485,1757.6 1469.1,1790.2 1447.9,1806.5 1420,1815 1390,1812 1360,1795 1340,1765"/>
<path d="M1330,1655C1325,1720 1335,1800 1360,1848C1385,1900 1440,1915 1500,1912C1540,1908 1552,1878 1550,1828C1548,1760 1532,1700 1502,1662C1472,1637 1420,1628 1370,1632C1345,1637 1333,1645 1330,1655Z"/>
<path d="M1318,1615C1310,1690 1310,1820 1325,1880C1340,1920 1380,1930 1440,1932L1540,1928C1580,1924 1605,1912 1618,1902"/>
<path d="M1300,1615C1290,1700 1288,1840 1300,1905C1312,1945 1350,1956 1420,1958L1520,1956C1570,1952 1600,1945 1618,1940"/>
<path d="M1281,1615C1268,1700 1266,1850 1275,1925C1285,1968 1330,1978 1400,1982L1500,1982C1560,1980 1590,1977 1618,1972"/>
<path d="M1262,1615C1255,1700 1252,1850 1258,1935C1265,1990 1320,2000 1400,2003L1618,2000"/>
<polyline points="1618,1668 1602,1671 1575.5,1684.5 1570,1711.4 1575.5,1744.5 1602,1798 1618,1810"/>
<polyline points="1487,1648.6 1515,1653.6 1551,1633 1560,1615"/>
</g>
<rect x="1370" y="1728" width="233" height="200" fill="#602828" fill-opacity="0.1"/>
<rect x="1245" y="1615" width="373" height="413" fill="url(#lfG)"/>
<rect x="1245" y="1615" width="373" height="413" fill="url(#btG)"/>
</g>
<g stroke="#222" stroke-width="1.2" fill="none">
<path d="M1235,1628H1618M1235,1728H1618M1235,1828H1618M1235,1928H1618M1235,2028H1618"/>
<path d="M1254,1615V2046M1370,1615V2046M1486,1615V2046M1603,1615V2046"/>
</g>
<rect x="1370" y="1728" width="233" height="200" fill="none" stroke="#f4f4f4" stroke-width="2"/>
<g font-size="12.5" fill="#555" text-anchor="end"><text x="1232" y="1632">10</text><text x="1232" y="1732">7.5</text><text x="1232" y="1832">5</text><text x="1232" y="1932">2.5</text><text x="1232" y="2032">0</text></g>
<g font-size="12.5" fill="#555" text-anchor="middle"><text x="1254" y="2055">0</text><text x="1370" y="2055">2</text><text x="1486" y="2055">4</text><text x="1603" y="2055">6</text></g>
<text x="1428" y="2070" font-size="13" fill="#333" text-anchor="middle">RT (..M)</text>
<text x="1446" y="2098" font-size="27" font-weight="bold" text-anchor="middle">Radiation (Gy)</text>
<text transform="translate(1194,1833) rotate(-90)" font-size="30" font-weight="bold" text-anchor="middle">APR-246 (µM)</text>
<text transform="translate(1210,1828) rotate(-90)" font-size="13" fill="#333" text-anchor="middle">APR-246 (..M)</text>
<g font-size="24" font-weight="bold"><text x="1380" y="1820" textLength="194" lengthAdjust="spacingAndGlyphs">Most synergistic</text><text x="1380" y="1848" textLength="164" lengthAdjust="spacingAndGlyphs">area score: 8.73</text></g>
</svg>
</body></html>
